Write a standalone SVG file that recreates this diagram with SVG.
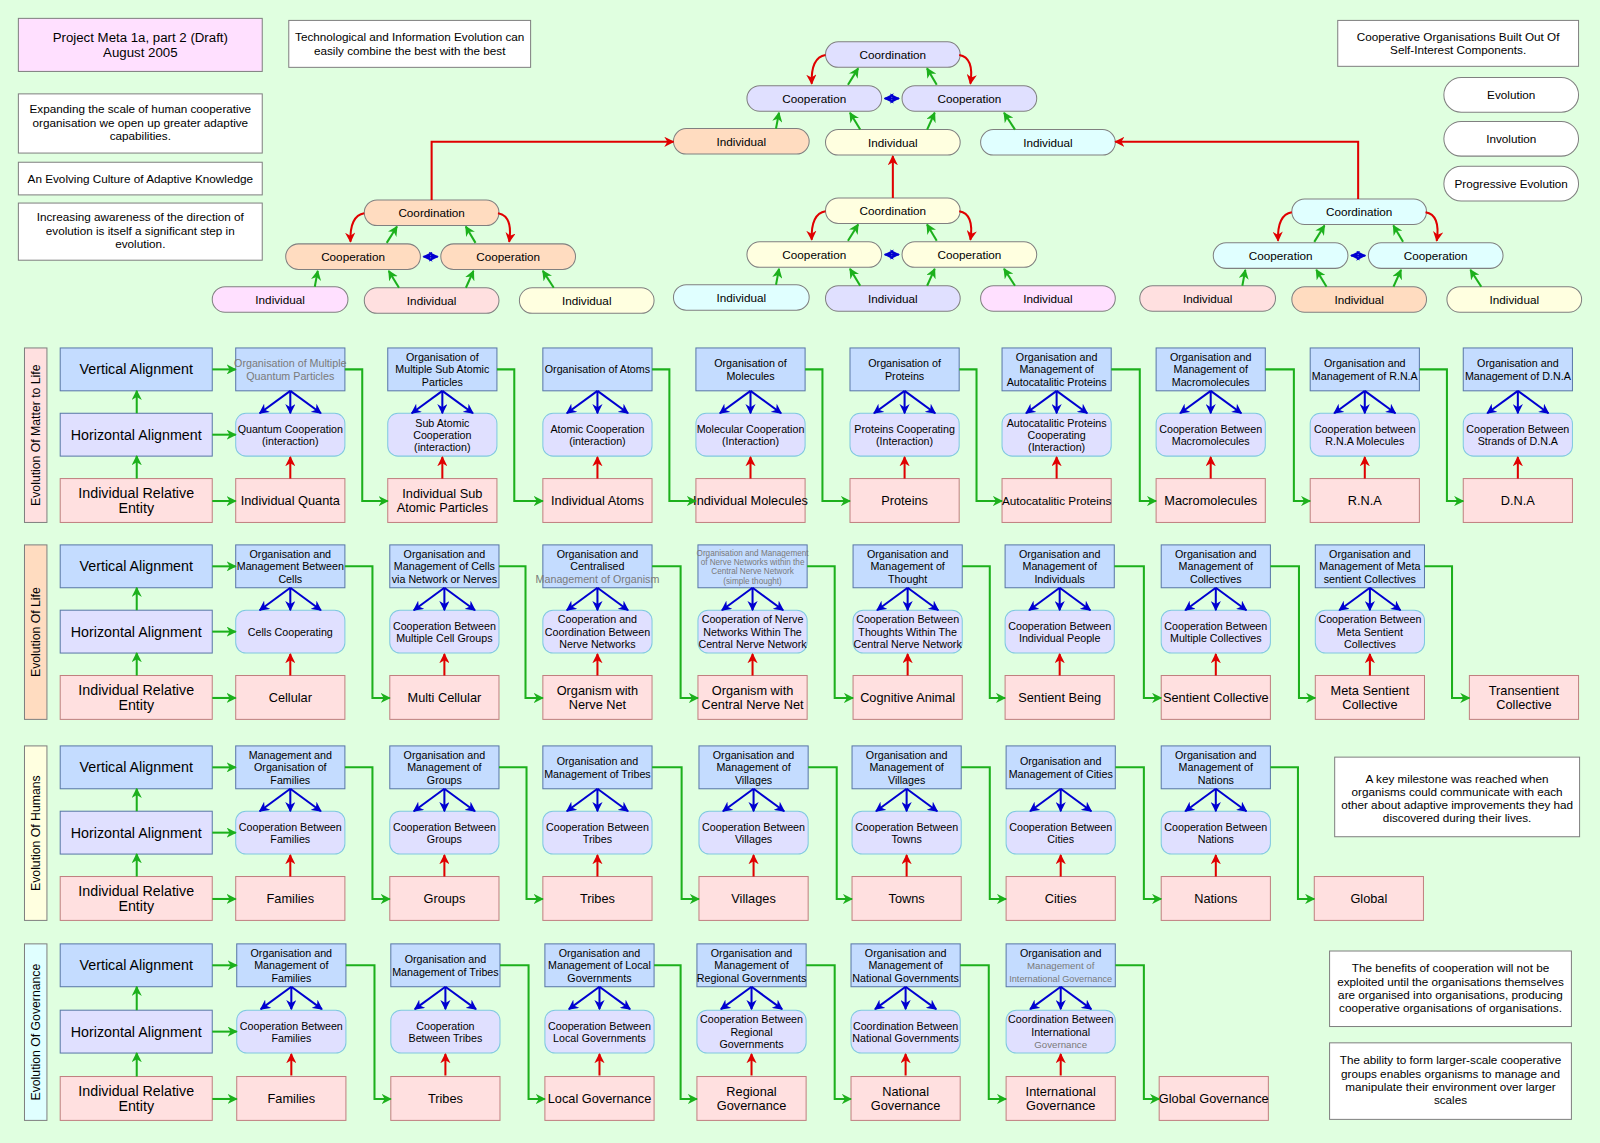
<svg xmlns="http://www.w3.org/2000/svg" xmlns:xlink="http://www.w3.org/1999/xlink" width="1600" height="1143" viewBox="0 0 1600 1143">
<style>
text{font-family:"Liberation Sans",Arial,sans-serif;fill:#000;text-anchor:middle}
.t{font-size:10.5px}
.s{font-size:8px}
.it{font-size:12.5px}
.b{font-size:14px}
.n{font-size:11.5px}
.g{fill:#7a7a7a}
.v{fill:#c4dcff;stroke:#5a78a8;stroke-width:1}
.h{fill:#e0e0ff;stroke:#80c8e0;stroke-width:1}
.i{fill:#ffe0e0;stroke:#c08080;stroke-width:1}
.w{fill:#fff;stroke:#808080;stroke-width:1}
.p{stroke:#808080;stroke-width:1}
.lav{fill:#e0e0ff}.pch{fill:#ffdcc0}.crm{fill:#ffffe0}.cyn{fill:#e0ffff}.vio{fill:#ffe0ff}.pnk{fill:#ffe0e0}
.gc{fill:none;stroke:#1cb01c;stroke-width:2;marker-end:url(#ag)}
.rc{fill:none;stroke:#e00000;stroke-width:2;marker-end:url(#ar)}
.bc{fill:none;stroke:#0000d0;stroke-width:2;marker-end:url(#ab)}
</style>
<defs>
<marker id="ag" viewBox="0 0 10 10" refX="9" refY="5" markerWidth="10" markerHeight="10" markerUnits="userSpaceOnUse" orient="auto"><path d="M0,0 L10,5 L0,10 L3,5 z" fill="#1cb01c"/></marker>
<marker id="ar" viewBox="0 0 10 10" refX="9" refY="5" markerWidth="10" markerHeight="10" markerUnits="userSpaceOnUse" orient="auto"><path d="M0,0 L10,5 L0,10 L3,5 z" fill="#e00000"/></marker>
<marker id="ab" viewBox="0 0 10 10" refX="9" refY="5" markerWidth="10" markerHeight="10" markerUnits="userSpaceOnUse" orient="auto"><path d="M0,0 L10,5 L0,10 L3,5 z" fill="#0000d0"/></marker>
<marker id="abs" viewBox="0 0 10 10" refX="1" refY="5" markerWidth="10" markerHeight="10" markerUnits="userSpaceOnUse" orient="auto"><path d="M10,0 L0,5 L10,10 L7,5 z" fill="#0000d0"/></marker>
<g id="fan"><path class="bc" d="M0,0 L-30,22"/><path class="bc" d="M0,0 L0,22"/><path class="bc" d="M0,0 L30,22"/></g>
<g id="up"><path class="rc" d="M0,22 L0,1"/></g>
<g id="tri">
<path class="rc" d="M0,13 C-12,15 -14,28 -13.5,41"/>
<path class="rc" d="M131,13 C143,15 144,28 142,41"/>
<path class="gc" d="M22,42 L32,26"/>
<path class="gc" d="M109,42 L99.5,26"/>
<path class="gc" d="M-48.5,85 L-45.6,69.5"/>
<path class="gc" d="M34,86 L24,69.5"/>
<path class="gc" d="M99.6,86 L107,69.5"/>
<path class="gc" d="M185.7,86 L175,69.5"/>
<path d="M58,55.5 H72" fill="none" stroke="#0000d0" stroke-width="2" marker-end="url(#ab)" marker-start="url(#abs)"/>
</g>
</defs>
<rect x="0" y="0" width="1600" height="1143" fill="#e0ffe0"/>
<g transform="scale(1.0204)">

<g id="notes">
<g id="title"><rect x="18" y="18" width="239" height="52" class="p" fill="#ffe0ff"/><text class="b" style="font-size:13px" x="137.5" y="41">Project Meta 1a, part 2 (Draft)<tspan x="137.5" dy="15">August 2005</tspan></text></g>
<g id="note-expanding"><rect x="18" y="92" width="239" height="58" class="w"/><text class="n" x="137.5" y="111">Expanding the scale of human cooperative<tspan x="137.5" dy="13">organisation we open up greater adaptive</tspan><tspan x="137.5" dy="13">capabilities.</tspan></text></g>
<g id="note-culture"><rect x="18" y="159" width="239" height="32" class="w"/><text class="n" x="137.5" y="179">An Evolving Culture of Adaptive Knowledge</text></g>
<g id="note-awareness"><rect x="18" y="199" width="239" height="56" class="w"/><text class="n" x="137.5" y="217">Increasing awareness of the direction of<tspan x="137.5" dy="13">evolution is itself a significant step in</tspan><tspan x="137.5" dy="13">evolution.</tspan></text></g>
<g id="note-tech"><rect x="283" y="20" width="237" height="46" class="w"/><text class="n" x="401.5" y="40">Technological and Information Evolution can<tspan x="401.5" dy="14">easily combine the best with the best</tspan></text></g>
<g id="note-coop"><rect x="1311" y="20" width="236" height="45" class="w"/><text class="n" x="1429" y="40">Cooperative Organisations Built Out Of<tspan x="1429" dy="13">Self-Interest Components.</tspan></text></g>
<g id="legend-evolution"><rect x="1415" y="76" width="132" height="34" rx="17" class="w"/><text class="n" x="1481" y="97">Evolution</text></g>
<g id="legend-involution"><rect x="1415" y="119" width="132" height="34" rx="17" class="w"/><text class="n" x="1481" y="140">Involution</text></g>
<g id="legend-progressive"><rect x="1415" y="163" width="132" height="34" rx="17" class="w"/><text class="n" x="1481" y="184">Progressive Evolution</text></g>
<g id="note-milestone"><rect x="1308" y="742" width="240" height="78" class="w"/><text class="n" x="1428" y="767">A key milestone was reached when<tspan x="1428" dy="13">organisms could communicate with each</tspan><tspan x="1428" dy="13">other about adaptive improvements they had</tspan><tspan x="1428" dy="13">discovered during their lives.</tspan></text></g>
<g id="note-benefits"><rect x="1303" y="932" width="237" height="74" class="w"/><text class="n" x="1421.5" y="953">The benefits of cooperation will not be<tspan x="1421.5" dy="13">exploited until the organisations themselves</tspan><tspan x="1421.5" dy="13">are organised into organisations, producing</tspan><tspan x="1421.5" dy="13">cooperative organisations of organisations.</tspan></text></g>
<g id="note-ability"><rect x="1303" y="1022" width="237" height="75" class="w"/><text class="n" x="1421.5" y="1043">The ability to form larger-scale cooperative<tspan x="1421.5" dy="13">groups enables organisms to manage and</tspan><tspan x="1421.5" dy="13">manipulate their environment over larger</tspan><tspan x="1421.5" dy="13">scales</tspan></text></g>
</g>

<g id="tri-top" transform="translate(809,41)">
<g id="tt-coord"><rect x="0" y="0" width="132" height="25" rx="12.5" class="p lav"/><text class="n" x="66" y="17">Coordination</text></g>
<g id="tt-coopL"><rect x="-77" y="43" width="132" height="25" rx="12.5" class="p lav"/><text class="n" x="-11" y="60">Cooperation</text></g>
<g id="tt-coopR"><rect x="75" y="43" width="132" height="25" rx="12.5" class="p lav"/><text class="n" x="141" y="60">Cooperation</text></g>
<g id="tt-ind1"><rect x="-149" y="85" width="133" height="25" rx="12.5" class="p pch"/><text class="n" x="-82.5" y="102">Individual</text></g>
<g id="tt-ind2"><rect x="0" y="86" width="132" height="25" rx="12.5" class="p crm"/><text class="n" x="66" y="103">Individual</text></g>
<g id="tt-ind3"><rect x="152" y="86" width="132" height="25" rx="12.5" class="p cyn"/><text class="n" x="218" y="103">Individual</text></g>
</g>
<g id="tri-left" transform="translate(357,196)">
<g id="tl-coord"><rect x="0" y="0" width="132" height="25" rx="12.5" class="p pch"/><text class="n" x="66" y="17">Coordination</text></g>
<g id="tl-coopL"><rect x="-77" y="43" width="132" height="25" rx="12.5" class="p pch"/><text class="n" x="-11" y="60">Cooperation</text></g>
<g id="tl-coopR"><rect x="75" y="43" width="132" height="25" rx="12.5" class="p pch"/><text class="n" x="141" y="60">Cooperation</text></g>
<g id="tl-ind1"><rect x="-149" y="85" width="133" height="25" rx="12.5" class="p vio"/><text class="n" x="-82.5" y="102">Individual</text></g>
<g id="tl-ind2"><rect x="0" y="86" width="132" height="25" rx="12.5" class="p pnk"/><text class="n" x="66" y="103">Individual</text></g>
<g id="tl-ind3"><rect x="152" y="86" width="132" height="25" rx="12.5" class="p crm"/><text class="n" x="218" y="103">Individual</text></g>
</g>
<g id="tri-mid" transform="translate(809,194)">
<g id="tm-coord"><rect x="0" y="0" width="132" height="25" rx="12.5" class="p crm"/><text class="n" x="66" y="17">Coordination</text></g>
<g id="tm-coopL"><rect x="-77" y="43" width="132" height="25" rx="12.5" class="p crm"/><text class="n" x="-11" y="60">Cooperation</text></g>
<g id="tm-coopR"><rect x="75" y="43" width="132" height="25" rx="12.5" class="p crm"/><text class="n" x="141" y="60">Cooperation</text></g>
<g id="tm-ind1"><rect x="-149" y="85" width="133" height="25" rx="12.5" class="p cyn"/><text class="n" x="-82.5" y="102">Individual</text></g>
<g id="tm-ind2"><rect x="0" y="86" width="132" height="25" rx="12.5" class="p lav"/><text class="n" x="66" y="103">Individual</text></g>
<g id="tm-ind3"><rect x="152" y="86" width="132" height="25" rx="12.5" class="p vio"/><text class="n" x="218" y="103">Individual</text></g>
</g>
<g id="tri-right" transform="translate(1266,195)">
<g id="tr-coord"><rect x="0" y="0" width="132" height="25" rx="12.5" class="p cyn"/><text class="n" x="66" y="17">Coordination</text></g>
<g id="tr-coopL"><rect x="-77" y="43" width="132" height="25" rx="12.5" class="p cyn"/><text class="n" x="-11" y="60">Cooperation</text></g>
<g id="tr-coopR"><rect x="75" y="43" width="132" height="25" rx="12.5" class="p cyn"/><text class="n" x="141" y="60">Cooperation</text></g>
<g id="tr-ind1"><rect x="-149" y="85" width="133" height="25" rx="12.5" class="p pnk"/><text class="n" x="-82.5" y="102">Individual</text></g>
<g id="tr-ind2"><rect x="0" y="86" width="132" height="25" rx="12.5" class="p pch"/><text class="n" x="66" y="103">Individual</text></g>
<g id="tr-ind3"><rect x="152" y="86" width="132" height="25" rx="12.5" class="p crm"/><text class="n" x="218" y="103">Individual</text></g>
</g>

<g id="labels">
<g id="row1-label"><rect x="24" y="341" width="22" height="171" class="p pnk"/><text style="font-size:12px" transform="translate(39.5,426.5) rotate(-90)">Evolution Of Matter to Life</text></g>
<g id="row2-label"><rect x="24" y="534" width="22" height="171" class="p pch"/><text style="font-size:12px" transform="translate(39.5,619.5) rotate(-90)">Evolution Of Life</text></g>
<g id="row3-label"><rect x="24" y="731" width="22" height="171" class="p crm"/><text style="font-size:12px" transform="translate(39.5,816.5) rotate(-90)">Evolution Of Humans</text></g>
<g id="row4-label"><rect x="24" y="925" width="22" height="173" class="p cyn"/><text style="font-size:12px" transform="translate(39.5,1011.5) rotate(-90)">Evolution Of Governance</text></g>
</g>

<g id="left-column">
<g id="r1-va"><rect class="v" x="59" y="341" width="149" height="42"/><text class="b" x="133.5" y="367">Vertical Alignment</text></g>
<g id="r1-ha"><rect class="h" x="59" y="405" width="149" height="42" style="stroke:#5a78a8"/><text class="b" x="133.5" y="431">Horizontal Alignment</text></g>
<g id="r1-ir"><rect class="i" x="59" y="469" width="149" height="43"/><text class="b" x="133.5" y="488">Individual Relative<tspan x="133.5" dy="15">Entity</tspan></text></g>
<g id="r2-va"><rect class="v" x="59" y="534" width="149" height="42"/><text class="b" x="133.5" y="560">Vertical Alignment</text></g>
<g id="r2-ha"><rect class="h" x="59" y="598" width="149" height="42" style="stroke:#5a78a8"/><text class="b" x="133.5" y="624">Horizontal Alignment</text></g>
<g id="r2-ir"><rect class="i" x="59" y="662" width="149" height="43"/><text class="b" x="133.5" y="681">Individual Relative<tspan x="133.5" dy="15">Entity</tspan></text></g>
<g id="r3-va"><rect class="v" x="59" y="731" width="149" height="42"/><text class="b" x="133.5" y="757">Vertical Alignment</text></g>
<g id="r3-ha"><rect class="h" x="59" y="795" width="149" height="42" style="stroke:#5a78a8"/><text class="b" x="133.5" y="821">Horizontal Alignment</text></g>
<g id="r3-ir"><rect class="i" x="59" y="859" width="149" height="43"/><text class="b" x="133.5" y="878">Individual Relative<tspan x="133.5" dy="15">Entity</tspan></text></g>
<g id="r4-va"><rect class="v" x="59" y="925" width="149" height="42"/><text class="b" x="133.5" y="951">Vertical Alignment</text></g>
<g id="r4-ha"><rect class="h" x="59" y="990" width="149" height="42" style="stroke:#5a78a8"/><text class="b" x="133.5" y="1016">Horizontal Alignment</text></g>
<g id="r4-ir"><rect class="i" x="59" y="1055" width="149" height="43"/><text class="b" x="133.5" y="1074">Individual Relative<tspan x="133.5" dy="15">Entity</tspan></text></g>
</g>

<g id="row1">
<g id="r1c0v"><rect class="v" x="231" y="341" width="107" height="42"/><text class="t g" x="284.5" y="360">Organisation of Multiple<tspan x="284.5" dy="12">Quantum Particles</tspan></text></g>
<g id="r1c0h"><rect class="h" x="231" y="405" width="107" height="42" rx="10"/><text class="t" x="284.5" y="424">Quantum Cooperation<tspan x="284.5" dy="12">(interaction)</tspan></text></g>
<g id="r1c0i"><rect class="i" x="231" y="469" width="107" height="43"/><text class="it" x="284.5" y="495">Individual Quanta</text></g>
<g id="r1c1v"><rect class="v" x="380" y="341" width="107" height="42"/><text class="t" x="433.5" y="354">Organisation of<tspan x="433.5" dy="12">Multiple Sub Atomic</tspan><tspan x="433.5" dy="12">Particles</tspan></text></g>
<g id="r1c1h"><rect class="h" x="380" y="405" width="107" height="42" rx="10"/><text class="t" x="433.5" y="418">Sub Atomic<tspan x="433.5" dy="12">Cooperation</tspan><tspan x="433.5" dy="12">(interaction)</tspan></text></g>
<g id="r1c1i"><rect class="i" x="380" y="469" width="107" height="43"/><text class="it" x="433.5" y="488">Individual Sub<tspan x="433.5" dy="14">Atomic Particles</tspan></text></g>
<g id="r1c2v"><rect class="v" x="532" y="341" width="107" height="42"/><text class="t" x="585.5" y="366">Organisation of Atoms</text></g>
<g id="r1c2h"><rect class="h" x="532" y="405" width="107" height="42" rx="10"/><text class="t" x="585.5" y="424">Atomic Cooperation<tspan x="585.5" dy="12">(interaction)</tspan></text></g>
<g id="r1c2i"><rect class="i" x="532" y="469" width="107" height="43"/><text class="it" x="585.5" y="495">Individual Atoms</text></g>
<g id="r1c3v"><rect class="v" x="682" y="341" width="107" height="42"/><text class="t" x="735.5" y="360">Organisation of<tspan x="735.5" dy="12">Molecules</tspan></text></g>
<g id="r1c3h"><rect class="h" x="682" y="405" width="107" height="42" rx="10"/><text class="t" x="735.5" y="424">Molecular Cooperation<tspan x="735.5" dy="12">(Interaction)</tspan></text></g>
<g id="r1c3i"><rect class="i" x="682" y="469" width="107" height="43"/><text class="it" x="735.5" y="495">Individual Molecules</text></g>
<g id="r1c4v"><rect class="v" x="833" y="341" width="107" height="42"/><text class="t" x="886.5" y="360">Organisation of<tspan x="886.5" dy="12">Proteins</tspan></text></g>
<g id="r1c4h"><rect class="h" x="833" y="405" width="107" height="42" rx="10"/><text class="t" x="886.5" y="424">Proteins Cooperating<tspan x="886.5" dy="12">(Interaction)</tspan></text></g>
<g id="r1c4i"><rect class="i" x="833" y="469" width="107" height="43"/><text class="it" x="886.5" y="495">Proteins</text></g>
<g id="r1c5v"><rect class="v" x="982" y="341" width="107" height="42"/><text class="t" x="1035.5" y="354">Organisation and<tspan x="1035.5" dy="12">Management of</tspan><tspan x="1035.5" dy="12">Autocatalitic Proteins</tspan></text></g>
<g id="r1c5h"><rect class="h" x="982" y="405" width="107" height="42" rx="10"/><text class="t" x="1035.5" y="418">Autocatalitic Proteins<tspan x="1035.5" dy="12">Cooperating</tspan><tspan x="1035.5" dy="12">(Interaction)</tspan></text></g>
<g id="r1c5i"><rect class="i" x="982" y="469" width="107" height="43"/><text class="t" style="font-size:11.5px" x="1035.5" y="495">Autocatalitic Proteins</text></g>
<g id="r1c6v"><rect class="v" x="1133" y="341" width="107" height="42"/><text class="t" x="1186.5" y="354">Organisation and<tspan x="1186.5" dy="12">Management of</tspan><tspan x="1186.5" dy="12">Macromolecules</tspan></text></g>
<g id="r1c6h"><rect class="h" x="1133" y="405" width="107" height="42" rx="10"/><text class="t" x="1186.5" y="424">Cooperation Between<tspan x="1186.5" dy="12">Macromolecules</tspan></text></g>
<g id="r1c6i"><rect class="i" x="1133" y="469" width="107" height="43"/><text class="it" x="1186.5" y="495">Macromolecules</text></g>
<g id="r1c7v"><rect class="v" x="1284" y="341" width="107" height="42"/><text class="t" x="1337.5" y="360">Organisation and<tspan x="1337.5" dy="12">Management of R.N.A</tspan></text></g>
<g id="r1c7h"><rect class="h" x="1284" y="405" width="107" height="42" rx="10"/><text class="t" x="1337.5" y="424">Cooperation between<tspan x="1337.5" dy="12">R.N.A Molecules</tspan></text></g>
<g id="r1c7i"><rect class="i" x="1284" y="469" width="107" height="43"/><text class="it" x="1337.5" y="495">R.N.A</text></g>
<g id="r1c8v"><rect class="v" x="1434" y="341" width="107" height="42"/><text class="t" x="1487.5" y="360">Organisation and<tspan x="1487.5" dy="12">Management of D.N.A</tspan></text></g>
<g id="r1c8h"><rect class="h" x="1434" y="405" width="107" height="42" rx="10"/><text class="t" x="1487.5" y="424">Cooperation Between<tspan x="1487.5" dy="12">Strands of D.N.A</tspan></text></g>
<g id="r1c8i"><rect class="i" x="1434" y="469" width="107" height="43"/><text class="it" x="1487.5" y="495">D.N.A</text></g>
</g>

<g id="row2">
<g id="r2c0v"><rect class="v" x="231" y="534" width="107" height="42"/><text class="t" x="284.5" y="547">Organisation and<tspan x="284.5" dy="12">Management Between</tspan><tspan x="284.5" dy="12">Cells</tspan></text></g>
<g id="r2c0h"><rect class="h" x="231" y="598" width="107" height="42" rx="10"/><text class="t" x="284.5" y="623">Cells Cooperating</text></g>
<g id="r2c0i"><rect class="i" x="231" y="662" width="107" height="43"/><text class="it" x="284.5" y="688">Cellular</text></g>
<g id="r2c1v"><rect class="v" x="382" y="534" width="107" height="42"/><text class="t" x="435.5" y="547">Organisation and<tspan x="435.5" dy="12">Management of Cells</tspan><tspan x="435.5" dy="12">via Network or Nerves</tspan></text></g>
<g id="r2c1h"><rect class="h" x="382" y="598" width="107" height="42" rx="10"/><text class="t" x="435.5" y="617">Cooperation Between<tspan x="435.5" dy="12">Multiple Cell Groups</tspan></text></g>
<g id="r2c1i"><rect class="i" x="382" y="662" width="107" height="43"/><text class="it" x="435.5" y="688">Multi Cellular</text></g>
<g id="r2c2v"><rect class="v" x="532" y="534" width="107" height="42"/><text class="t" x="585.5" y="547">Organisation and<tspan x="585.5" dy="12">Centralised</tspan><tspan x="585.5" dy="12" class="g">Management of Organism</tspan></text></g>
<g id="r2c2h"><rect class="h" x="532" y="598" width="107" height="42" rx="10"/><text class="t" x="585.5" y="611">Cooperation and<tspan x="585.5" dy="12">Coordination Between</tspan><tspan x="585.5" dy="12">Nerve Networks</tspan></text></g>
<g id="r2c2i"><rect class="i" x="532" y="662" width="107" height="43"/><text class="it" x="585.5" y="681">Organism with<tspan x="585.5" dy="14">Nerve Net</tspan></text></g>
<g id="r2c3v"><rect class="v" x="684" y="534" width="107" height="42"/><text class="s g" x="737.5" y="545">Organisation and Management<tspan x="737.5" dy="9">of Nerve Networks within the</tspan><tspan x="737.5" dy="9">Central Nerve Network</tspan><tspan x="737.5" dy="9">(simple thought)</tspan></text></g>
<g id="r2c3h"><rect class="h" x="684" y="598" width="107" height="42" rx="10"/><text class="t" x="737.5" y="611">Cooperation of Nerve<tspan x="737.5" dy="12">Networks Within The</tspan><tspan x="737.5" dy="12">Central Nerve Network</tspan></text></g>
<g id="r2c3i"><rect class="i" x="684" y="662" width="107" height="43"/><text class="it" x="737.5" y="681">Organism with<tspan x="737.5" dy="14">Central Nerve Net</tspan></text></g>
<g id="r2c4v"><rect class="v" x="836" y="534" width="107" height="42"/><text class="t" x="889.5" y="547">Organisation and<tspan x="889.5" dy="12">Management of</tspan><tspan x="889.5" dy="12">Thought</tspan></text></g>
<g id="r2c4h"><rect class="h" x="836" y="598" width="107" height="42" rx="10"/><text class="t" x="889.5" y="611">Cooperation Between<tspan x="889.5" dy="12">Thoughts Within The</tspan><tspan x="889.5" dy="12">Central Nerve Network</tspan></text></g>
<g id="r2c4i"><rect class="i" x="836" y="662" width="107" height="43"/><text class="it" x="889.5" y="688">Cognitive Animal</text></g>
<g id="r2c5v"><rect class="v" x="985" y="534" width="107" height="42"/><text class="t" x="1038.5" y="547">Organisation and<tspan x="1038.5" dy="12">Management of</tspan><tspan x="1038.5" dy="12">Individuals</tspan></text></g>
<g id="r2c5h"><rect class="h" x="985" y="598" width="107" height="42" rx="10"/><text class="t" x="1038.5" y="617">Cooperation Between<tspan x="1038.5" dy="12">Individual People</tspan></text></g>
<g id="r2c5i"><rect class="i" x="985" y="662" width="107" height="43"/><text class="it" x="1038.5" y="688">Sentient Being</text></g>
<g id="r2c6v"><rect class="v" x="1138" y="534" width="107" height="42"/><text class="t" x="1191.5" y="547">Organisation and<tspan x="1191.5" dy="12">Management of</tspan><tspan x="1191.5" dy="12">Collectives</tspan></text></g>
<g id="r2c6h"><rect class="h" x="1138" y="598" width="107" height="42" rx="10"/><text class="t" x="1191.5" y="617">Cooperation Between<tspan x="1191.5" dy="12">Multiple Collectives</tspan></text></g>
<g id="r2c6i"><rect class="i" x="1138" y="662" width="107" height="43"/><text class="it" x="1191.5" y="688">Sentient Collective</text></g>
<g id="r2c7v"><rect class="v" x="1289" y="534" width="107" height="42"/><text class="t" x="1342.5" y="547">Organisation and<tspan x="1342.5" dy="12">Management of Meta</tspan><tspan x="1342.5" dy="12">sentient Collectives</tspan></text></g>
<g id="r2c7h"><rect class="h" x="1289" y="598" width="107" height="42" rx="10"/><text class="t" x="1342.5" y="611">Cooperation Between<tspan x="1342.5" dy="12">Meta Sentient</tspan><tspan x="1342.5" dy="12">Collectives</tspan></text></g>
<g id="r2c7i"><rect class="i" x="1289" y="662" width="107" height="43"/><text class="it" x="1342.5" y="681">Meta Sentient<tspan x="1342.5" dy="14">Collective</tspan></text></g>
<g id="r2c8i"><rect class="i" x="1440" y="662" width="107" height="43"/><text class="it" x="1493.5" y="681">Transentient<tspan x="1493.5" dy="14">Collective</tspan></text></g>
</g>

<g id="row3">
<g id="r3c0v"><rect class="v" x="231" y="731" width="107" height="42"/><text class="t" x="284.5" y="744">Management and<tspan x="284.5" dy="12">Organisation of</tspan><tspan x="284.5" dy="12">Families</tspan></text></g>
<g id="r3c0h"><rect class="h" x="231" y="795" width="107" height="42" rx="10"/><text class="t" x="284.5" y="814">Cooperation Between<tspan x="284.5" dy="12">Families</tspan></text></g>
<g id="r3c0i"><rect class="i" x="231" y="859" width="107" height="43"/><text class="it" x="284.5" y="885">Families</text></g>
<g id="r3c1v"><rect class="v" x="382" y="731" width="107" height="42"/><text class="t" x="435.5" y="744">Organisation and<tspan x="435.5" dy="12">Management of</tspan><tspan x="435.5" dy="12">Groups</tspan></text></g>
<g id="r3c1h"><rect class="h" x="382" y="795" width="107" height="42" rx="10"/><text class="t" x="435.5" y="814">Cooperation Between<tspan x="435.5" dy="12">Groups</tspan></text></g>
<g id="r3c1i"><rect class="i" x="382" y="859" width="107" height="43"/><text class="it" x="435.5" y="885">Groups</text></g>
<g id="r3c2v"><rect class="v" x="532" y="731" width="107" height="42"/><text class="t" x="585.5" y="750">Organisation and<tspan x="585.5" dy="12">Management of Tribes</tspan></text></g>
<g id="r3c2h"><rect class="h" x="532" y="795" width="107" height="42" rx="10"/><text class="t" x="585.5" y="814">Cooperation Between<tspan x="585.5" dy="12">Tribes</tspan></text></g>
<g id="r3c2i"><rect class="i" x="532" y="859" width="107" height="43"/><text class="it" x="585.5" y="885">Tribes</text></g>
<g id="r3c3v"><rect class="v" x="685" y="731" width="107" height="42"/><text class="t" x="738.5" y="744">Organisation and<tspan x="738.5" dy="12">Management of</tspan><tspan x="738.5" dy="12">Villages</tspan></text></g>
<g id="r3c3h"><rect class="h" x="685" y="795" width="107" height="42" rx="10"/><text class="t" x="738.5" y="814">Cooperation Between<tspan x="738.5" dy="12">Villages</tspan></text></g>
<g id="r3c3i"><rect class="i" x="685" y="859" width="107" height="43"/><text class="it" x="738.5" y="885">Villages</text></g>
<g id="r3c4v"><rect class="v" x="835" y="731" width="107" height="42"/><text class="t" x="888.5" y="744">Organisation and<tspan x="888.5" dy="12">Management of</tspan><tspan x="888.5" dy="12">Villages</tspan></text></g>
<g id="r3c4h"><rect class="h" x="835" y="795" width="107" height="42" rx="10"/><text class="t" x="888.5" y="814">Cooperation Between<tspan x="888.5" dy="12">Towns</tspan></text></g>
<g id="r3c4i"><rect class="i" x="835" y="859" width="107" height="43"/><text class="it" x="888.5" y="885">Towns</text></g>
<g id="r3c5v"><rect class="v" x="986" y="731" width="107" height="42"/><text class="t" x="1039.5" y="750">Organisation and<tspan x="1039.5" dy="12">Management of Cities</tspan></text></g>
<g id="r3c5h"><rect class="h" x="986" y="795" width="107" height="42" rx="10"/><text class="t" x="1039.5" y="814">Cooperation Between<tspan x="1039.5" dy="12">Cities</tspan></text></g>
<g id="r3c5i"><rect class="i" x="986" y="859" width="107" height="43"/><text class="it" x="1039.5" y="885">Cities</text></g>
<g id="r3c6v"><rect class="v" x="1138" y="731" width="107" height="42"/><text class="t" x="1191.5" y="744">Organisation and<tspan x="1191.5" dy="12">Management of</tspan><tspan x="1191.5" dy="12">Nations</tspan></text></g>
<g id="r3c6h"><rect class="h" x="1138" y="795" width="107" height="42" rx="10"/><text class="t" x="1191.5" y="814">Cooperation Between<tspan x="1191.5" dy="12">Nations</tspan></text></g>
<g id="r3c6i"><rect class="i" x="1138" y="859" width="107" height="43"/><text class="it" x="1191.5" y="885">Nations</text></g>
<g id="r3c7i"><rect class="i" x="1288" y="859" width="107" height="43"/><text class="it" x="1341.5" y="885">Global</text></g>
</g>

<g id="row4">
<g id="r4c0v"><rect class="v" x="232" y="925" width="107" height="42"/><text class="t" x="285.5" y="938">Organisation and<tspan x="285.5" dy="12">Management of</tspan><tspan x="285.5" dy="12">Families</tspan></text></g>
<g id="r4c0h"><rect class="h" x="232" y="990" width="107" height="42" rx="10"/><text class="t" x="285.5" y="1009">Cooperation Between<tspan x="285.5" dy="12">Families</tspan></text></g>
<g id="r4c0i"><rect class="i" x="232" y="1055" width="107" height="43"/><text class="it" x="285.5" y="1081">Families</text></g>
<g id="r4c1v"><rect class="v" x="383" y="925" width="107" height="42"/><text class="t" x="436.5" y="944">Organisation and<tspan x="436.5" dy="12">Management of Tribes</tspan></text></g>
<g id="r4c1h"><rect class="h" x="383" y="990" width="107" height="42" rx="10"/><text class="t" x="436.5" y="1009">Cooperation<tspan x="436.5" dy="12">Between Tribes</tspan></text></g>
<g id="r4c1i"><rect class="i" x="383" y="1055" width="107" height="43"/><text class="it" x="436.5" y="1081">Tribes</text></g>
<g id="r4c2v"><rect class="v" x="534" y="925" width="107" height="42"/><text class="t" x="587.5" y="938">Organisation and<tspan x="587.5" dy="12">Management of Local</tspan><tspan x="587.5" dy="12">Governments</tspan></text></g>
<g id="r4c2h"><rect class="h" x="534" y="990" width="107" height="42" rx="10"/><text class="t" x="587.5" y="1009">Cooperation Between<tspan x="587.5" dy="12">Local Governments</tspan></text></g>
<g id="r4c2i"><rect class="i" x="534" y="1055" width="107" height="43"/><text class="it" x="587.5" y="1081">Local Governance</text></g>
<g id="r4c3v"><rect class="v" x="683" y="925" width="107" height="42"/><text class="t" x="736.5" y="938">Organisation and<tspan x="736.5" dy="12">Management of</tspan><tspan x="736.5" dy="12">Regional Governments</tspan></text></g>
<g id="r4c3h"><rect class="h" x="683" y="990" width="107" height="42" rx="10"/><text class="t" x="736.5" y="1003">Cooperation Between<tspan x="736.5" dy="12">Regional</tspan><tspan x="736.5" dy="12">Governments</tspan></text></g>
<g id="r4c3i"><rect class="i" x="683" y="1055" width="107" height="43"/><text class="it" x="736.5" y="1074">Regional<tspan x="736.5" dy="14">Governance</tspan></text></g>
<g id="r4c4v"><rect class="v" x="834" y="925" width="107" height="42"/><text class="t" x="887.5" y="938">Organisation and<tspan x="887.5" dy="12">Management of</tspan><tspan x="887.5" dy="12">National Governments</tspan></text></g>
<g id="r4c4h"><rect class="h" x="834" y="990" width="107" height="42" rx="10"/><text class="t" x="887.5" y="1009">Coordination Between<tspan x="887.5" dy="12">National Governments</tspan></text></g>
<g id="r4c4i"><rect class="i" x="834" y="1055" width="107" height="43"/><text class="it" x="887.5" y="1074">National<tspan x="887.5" dy="14">Governance</tspan></text></g>
<g id="r4c5v"><rect class="v" x="986" y="925" width="107" height="42"/><text class="t" x="1039.5" y="938">Organisation and<tspan x="1039.5" dy="12" class="g" style="font-size:9.5px">Management of</tspan><tspan x="1039.5" dy="12" class="g" style="font-size:9px">International Governance</tspan></text></g>
<g id="r4c5h"><rect class="h" x="986" y="990" width="107" height="42" rx="10"/><text class="t" x="1039.5" y="1003">Coordination Between<tspan x="1039.5" dy="12">International</tspan><tspan x="1039.5" dy="12" class="g" style="font-size:9.5px">Governance</tspan></text></g>
<g id="r4c5i"><rect class="i" x="986" y="1055" width="107" height="43"/><text class="it" x="1039.5" y="1074">International<tspan x="1039.5" dy="14">Governance</tspan></text></g>
<g id="r4c6i"><rect class="i" x="1136" y="1055" width="107" height="43"/><text class="it" x="1189.5" y="1081">Global Governance</text></g>
</g>

<g id="connectors">
<use href="#tri" x="809" y="41"/>
<use href="#tri" x="357" y="196"/>
<use href="#tri" x="809" y="194"/>
<use href="#tri" x="1266" y="195"/>
<path class="rc" d="M423,196 V139 H660"/>
<path class="rc" d="M875,194 V153"/>
<path class="rc" d="M1331,195 V139 H1093"/>

<path class="gc" d="M208,362 H231"/><path class="gc" d="M208,426 H231"/><path class="gc" d="M208,491 H231"/>
<path class="gc" d="M134,405 V383"/><path class="gc" d="M134,469 V447"/>
<path class="gc" d="M208,555 H231"/><path class="gc" d="M208,619 H231"/><path class="gc" d="M208,684 H231"/>
<path class="gc" d="M134,598 V576"/><path class="gc" d="M134,662 V640"/>
<path class="gc" d="M208,752 H231"/><path class="gc" d="M208,816 H231"/><path class="gc" d="M208,881 H231"/>
<path class="gc" d="M134,795 V773"/><path class="gc" d="M134,859 V837"/>
<path class="gc" d="M208,946 H232"/><path class="gc" d="M208,1011 H232"/><path class="gc" d="M208,1077 H232"/>
<path class="gc" d="M134,990 V967"/><path class="gc" d="M134,1055 V1032"/>

<use href="#fan" x="284.5" y="383"/><use href="#fan" x="433.5" y="383"/><use href="#fan" x="585.5" y="383"/><use href="#fan" x="735.5" y="383"/><use href="#fan" x="886.5" y="383"/><use href="#fan" x="1035.5" y="383"/><use href="#fan" x="1186.5" y="383"/><use href="#fan" x="1337.5" y="383"/><use href="#fan" x="1487.5" y="383"/>
<use href="#up" x="284.5" y="447"/><use href="#up" x="433.5" y="447"/><use href="#up" x="585.5" y="447"/><use href="#up" x="735.5" y="447"/><use href="#up" x="886.5" y="447"/><use href="#up" x="1035.5" y="447"/><use href="#up" x="1186.5" y="447"/><use href="#up" x="1337.5" y="447"/><use href="#up" x="1487.5" y="447"/>
<path class="gc" d="M338,362 H355 V491 H380"/><path class="gc" d="M487,362 H504 V491 H532"/><path class="gc" d="M639,362 H656 V491 H682"/><path class="gc" d="M789,362 H806 V491 H833"/><path class="gc" d="M940,362 H957 V491 H982"/><path class="gc" d="M1089,362 H1117 V491 H1133"/><path class="gc" d="M1240,362 H1268 V491 H1284"/><path class="gc" d="M1391,362 H1418 V491 H1434"/>

<use href="#fan" x="284.5" y="576"/><use href="#fan" x="435.5" y="576"/><use href="#fan" x="585.5" y="576"/><use href="#fan" x="737.5" y="576"/><use href="#fan" x="889.5" y="576"/><use href="#fan" x="1038.5" y="576"/><use href="#fan" x="1191.5" y="576"/><use href="#fan" x="1342.5" y="576"/>
<use href="#up" x="284.5" y="640"/><use href="#up" x="435.5" y="640"/><use href="#up" x="585.5" y="640"/><use href="#up" x="737.5" y="640"/><use href="#up" x="889.5" y="640"/><use href="#up" x="1038.5" y="640"/><use href="#up" x="1191.5" y="640"/><use href="#up" x="1342.5" y="640"/>
<path class="gc" d="M338,555 H365 V684 H382"/><path class="gc" d="M489,555 H515 V684 H532"/><path class="gc" d="M639,555 H667 V684 H684"/><path class="gc" d="M791,555 H818 V684 H836"/><path class="gc" d="M943,555 H970 V684 H985"/><path class="gc" d="M1092,555 H1121 V684 H1138"/><path class="gc" d="M1245,555 H1273 V684 H1289"/><path class="gc" d="M1396,555 H1423 V684 H1440"/>

<use href="#fan" x="284.5" y="773"/><use href="#fan" x="435.5" y="773"/><use href="#fan" x="585.5" y="773"/><use href="#fan" x="738.5" y="773"/><use href="#fan" x="888.5" y="773"/><use href="#fan" x="1039.5" y="773"/><use href="#fan" x="1191.5" y="773"/>
<use href="#up" x="284.5" y="837"/><use href="#up" x="435.5" y="837"/><use href="#up" x="585.5" y="837"/><use href="#up" x="738.5" y="837"/><use href="#up" x="888.5" y="837"/><use href="#up" x="1039.5" y="837"/><use href="#up" x="1191.5" y="837"/>
<path class="gc" d="M338,752 H365 V881 H382"/><path class="gc" d="M489,752 H516 V881 H532"/><path class="gc" d="M639,752 H668 V881 H685"/><path class="gc" d="M792,752 H820 V881 H835"/><path class="gc" d="M942,752 H970 V881 H986"/><path class="gc" d="M1093,752 H1121 V881 H1138"/><path class="gc" d="M1245,752 H1272 V881 H1288"/>

<use href="#fan" x="285.5" y="967"/><use href="#fan" x="436.5" y="967"/><use href="#fan" x="587.5" y="967"/><use href="#fan" x="736.5" y="967"/><use href="#fan" x="887.5" y="967"/><use href="#fan" x="1039.5" y="967"/>
<use href="#up" x="285.5" y="1032"/><use href="#up" x="436.5" y="1032"/><use href="#up" x="587.5" y="1032"/><use href="#up" x="736.5" y="1032"/><use href="#up" x="887.5" y="1032"/><use href="#up" x="1039.5" y="1032"/>
<path class="gc" d="M339,946 H367 V1077 H383"/><path class="gc" d="M490,946 H518 V1077 H534"/><path class="gc" d="M641,946 H667 V1077 H683"/><path class="gc" d="M790,946 H818 V1077 H834"/><path class="gc" d="M941,946 H969 V1077 H986"/><path class="gc" d="M1093,946 H1121 V1077 H1136"/>
</g>
</g>
</svg>
